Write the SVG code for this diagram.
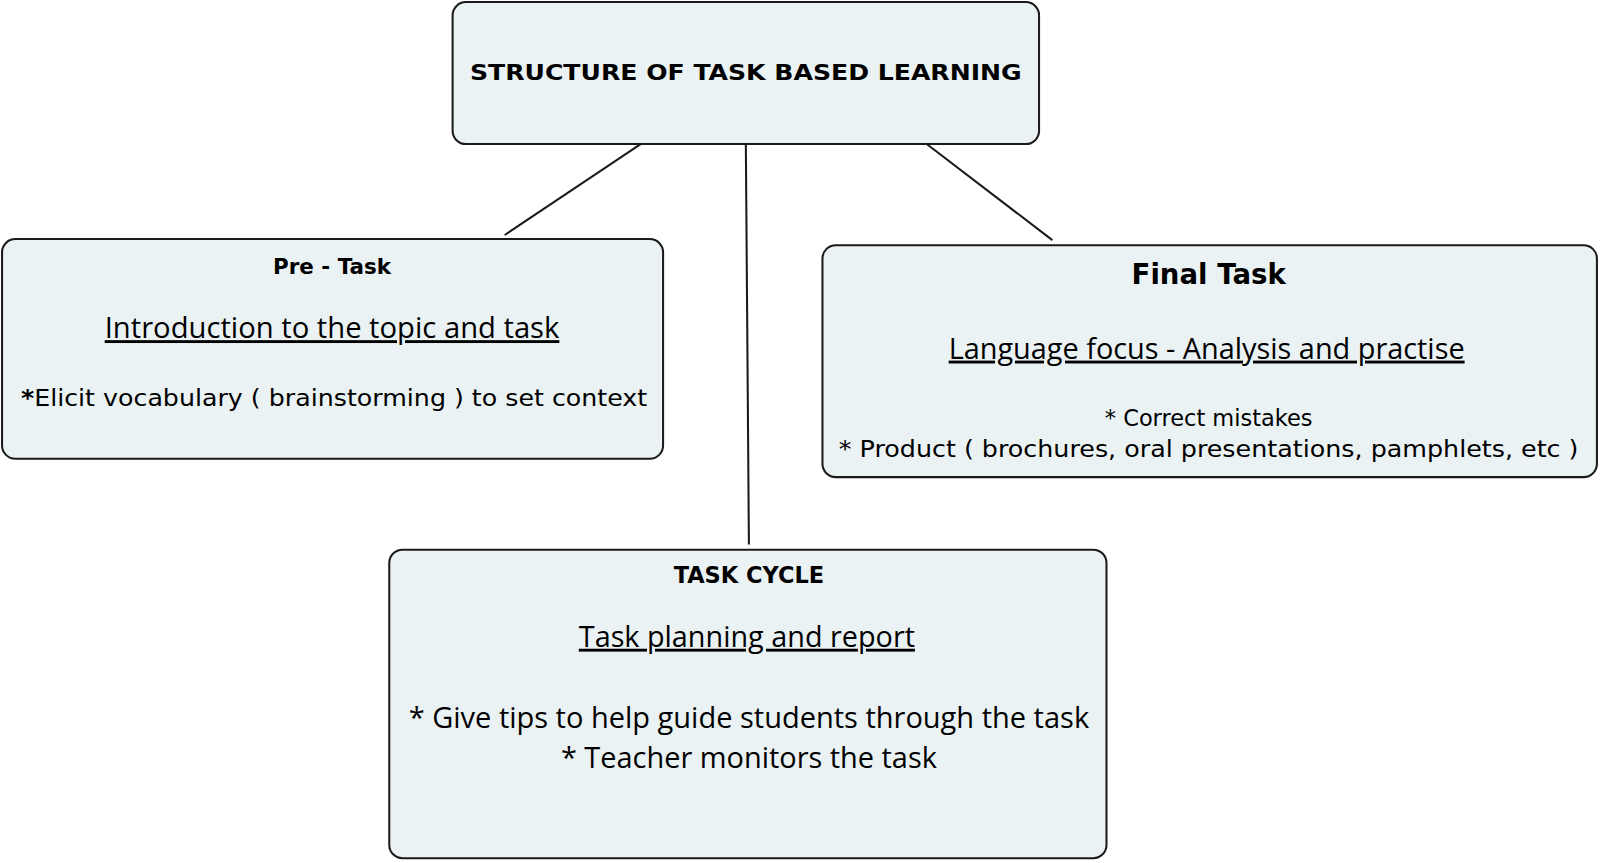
<svg xmlns="http://www.w3.org/2000/svg" width="1600" height="863" viewBox="0 0 1600 863">
<style>
.box{fill:#ebf2f4;stroke:#1a1a1a;stroke-width:2}
.h{font-family:"DejaVu Sans",Verdana,sans-serif;font-weight:bold;fill:#000;text-anchor:middle}
.u{font-family:"Open Sans","Liberation Sans",sans-serif;fill:#000;text-decoration:underline;text-anchor:middle;font-size:28px}
.v{font-family:"DejaVu Sans",Verdana,sans-serif;fill:#000;text-anchor:middle;font-size:22px}
.c{font-family:"Open Sans","Liberation Sans",sans-serif;fill:#000;text-anchor:middle;font-size:29px}
</style>
<rect width="1600" height="863" fill="#fff"/>
<g transform="scale(1.0217)">
<g id="connectors" stroke="#1a1a1a" stroke-width="2">
<line x1="627" y1="141" x2="494" y2="230"/>
<line x1="730" y1="141" x2="733" y2="533"/>
<line x1="907" y1="141" x2="1030" y2="235"/>
</g>
<g id="root">
<rect class="box" x="443" y="2" width="574" height="139" rx="13"/>
<text class="h" x="730" y="78" font-size="21" textLength="540" lengthAdjust="spacingAndGlyphs">STRUCTURE OF TASK BASED LEARNING</text>
</g>
<g id="pretask">
<rect class="box" x="2" y="234" width="647" height="215" rx="13"/>
<text class="h" x="325" y="268" font-size="21">Pre - Task</text>
<text class="u" x="325" y="331" textLength="445" lengthAdjust="spacingAndGlyphs">Introduction to the topic and task</text>
<text class="v" x="327" y="397" textLength="613" lengthAdjust="spacingAndGlyphs"><tspan font-weight="bold">*</tspan>Elicit vocabulary ( brainstorming ) to set context</text>
</g>
<g id="finaltask">
<rect class="box" x="805" y="240" width="758" height="227" rx="13"/>
<text class="h" x="1183" y="278" font-size="27">Final Task</text>
<text class="u" x="1181" y="351" textLength="505" lengthAdjust="spacingAndGlyphs">Language focus - Analysis and practise</text>
<text class="v" x="1183" y="417">* Correct mistakes</text>
<text class="v" x="1183" y="447" textLength="724" lengthAdjust="spacingAndGlyphs">* Product ( brochures, oral presentations, pamphlets, etc )</text>
</g>
<g id="taskcycle">
<rect class="box" x="381" y="538" width="702" height="302" rx="13"/>
<text class="h" x="733" y="571" font-size="22">TASK CYCLE</text>
<text class="u" x="731" y="633" textLength="329" lengthAdjust="spacingAndGlyphs">Task planning and report</text>
<text class="c" x="733" y="713" textLength="666" lengthAdjust="spacingAndGlyphs">* Give tips to help guide students through the task</text>
<text class="c" x="733" y="752" textLength="368" lengthAdjust="spacingAndGlyphs">* Teacher monitors the task</text>
</g>
</g>
</svg>
